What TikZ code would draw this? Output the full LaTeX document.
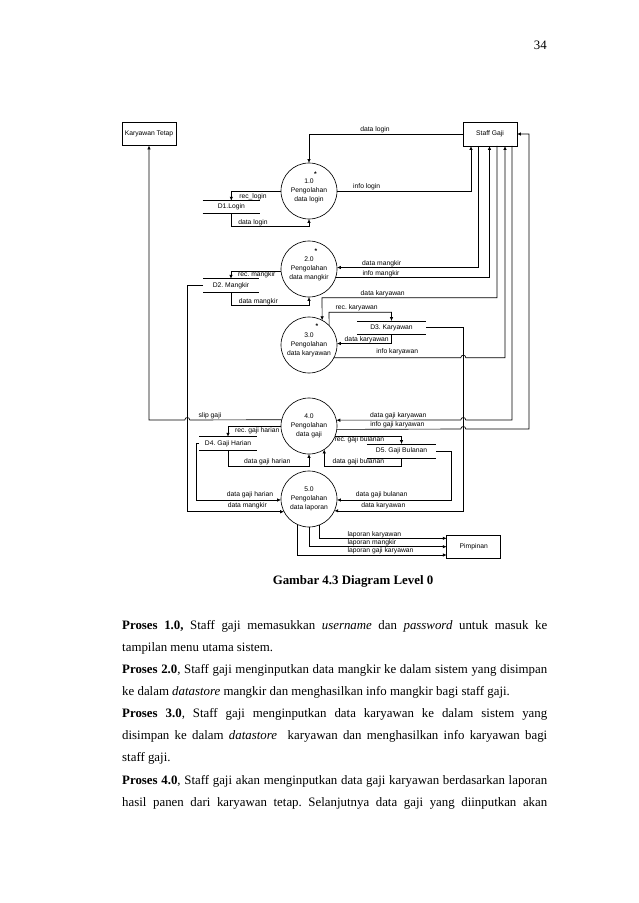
\documentclass[tikz,border=0pt]{standalone}
\usepackage{fontspec}
\setmainfont{Liberation Serif}
\newfontfamily\dsf{Liberation Sans}
\usetikzlibrary{arrows.meta,calc}
\frenchspacing
\def\U{0.9326pt}
\newcommand{\diafont}{\dsf\fontsize{6.3}{7.5}\selectfont}
\newcommand{\procfont}{\dsf\fontsize{6.3}{8.1}\selectfont}
\newcommand{\txtfont}{\fontsize{12}{14}\selectfont}
\tikzset{
  proc/.style={circle, draw, line width=0.6pt, minimum size=56*\U, inner sep=0pt, outer sep=0pt, font=\procfont, align=center},
  ent/.style={rectangle, draw, line width=0.6pt, minimum width=54*\U, inner sep=0pt, outer sep=0pt, font=\diafont},
  store/.style={rectangle, inner sep=0pt, outer sep=0pt, font=\diafont},
  lbl/.style={inner sep=0pt, font=\diafont},
  flow/.style={draw, line width=0.6pt, -{Latex[length=3.6pt,width=3.2pt]}},
  solidline/.style={draw, line width=0.6pt},
  astx/.style={inner sep=0pt, font=\diafont\bfseries},
  bodyline/.style={anchor=base west, inner sep=0pt, font=\txtfont},
}
\begin{document}
\begin{tikzpicture}[x=\U, y=-\U]
\useasboundingbox (0,0) rectangle (638,903);

% ---------- entities ----------
\node[ent, minimum height=23*\U] (kt) at (149,134) {Karyawan Tetap};
\node[ent, minimum height=24*\U] (sg) at (490,134) {Staff Gaji};
\node[ent, minimum height=23.3*\U] (pim) at (473.7,546.7) {Pimpinan};

% ---------- processes ----------
\node[proc] (p1) at (309,191) {1.0\\Pengolahan\\data login};
\node[proc] (p2) at (309,269) {2.0\\Pengolahan\\data mangkir};
\node[proc] (p3) at (309,345) {3.0\\Pengolahan\\data karyawan};
\node[proc] (p4) at (309,426) {4.0\\Pengolahan\\data gaji};
\node[proc] (p5) at (309,499) {5.0\\Pengolahan\\data laporan};
\node[astx] (s1) at (315.5,174) {*};
\node[astx] (s2) at (316,251) {*};
\node[astx] (s3) at (317,326) {*};

% ---------- data stores ----------
\node[store, minimum width=57.3*\U, minimum height=13*\U] (d1) at (231.3,207.2) {D1.Login};
\node[store, minimum width=56*\U, minimum height=13.6*\U] (d2) at (231,285.5) {D2. Mangkir};
\node[store, minimum width=69*\U, minimum height=13*\U] (d3) at (391.5,327.5) {D3. Karyawan};
\node[store, minimum width=57.6*\U, minimum height=13.3*\U] (d4) at (228,443.3) {D4. Gaji Harian};
\node[store, minimum width=69.4*\U, minimum height=14.3*\U] (d5) at (401.5,451.2) {D5. Gaji Bulanan};
\foreach \d in {d1,d2,d3,d4,d5}{
  \draw[solidline] (\d.north west) -- (\d.north east) (\d.south west) -- (\d.south east);
}

% ---------- process 1.0 ----------
\draw[flow] (sg.west) -| (p1.north);
\draw[flow] (p1.east) -| ($(sg.south west)+(8,0)$);
\draw[flow] (p1.west) -| (d1.north);
\draw[flow] (d1.south) -- ++(0,13) -| (p1.south);

% ---------- process 2.0 ----------
\draw[flow] ($(sg.south west)+(15.5,0)$) |- (p2.3.5);
\draw[flow] (p2.342.8) -| ($(sg.south west)+(26.5,0)$);
\draw[flow] (p2.184) -| (d2.north);
\draw[flow] (d2.south) -- ++(0,12.7) -| (p2.south);

% ---------- process 3.0 ----------
\draw[flow] ($(sg.south west)+(34,0)$) |- (322,297.7) -- (p3.62.3);
\draw[flow] (p3.44.4) -- (329,312.3) -| (d3.north);
\draw[flow] (d3.south) |- (p3.3.5);
\draw[flow] (p3.333) -- (460.8,357.7) .. controls (460.8,354.4) and (465.8,354.4) .. (465.8,357.7) -| ($(sg.south west)+(42,0)$);

% ---------- process 4.0 ----------
\draw[flow] (p4.167.6) -- (189.8,420) .. controls (189.8,416.7) and (184.8,416.7) .. (184.8,420) -| (kt.south);
\draw[flow] (p4.181.4) -| (d4.north);
\draw[flow] (d4.south) -- ++(0,16.7) -| (p4.south);
\draw[flow] ($(sg.south west)+(49,0)$) |- (465.8,420) .. controls (465.8,416.7) and (460.8,416.7) .. (460.8,420) -- (p4.12.4);
\draw[flow] (p4.353.8) -- (460.8,429) .. controls (460.8,425.7) and (465.8,425.7) .. (465.8,429) -- (529,429) |- (sg.east);
\draw[flow] (p4.339.1) -| (d5.north);
\draw[flow] (d5.south) -- ++(0,7.7) -| (p4.303.1);

% ---------- process 5.0 ----------
\draw[flow] (d4.west) -- (196.7,443.3) |- (p5.182);
\draw[flow] (d2.west) -- (187.3,285.5) |- (p5.207);
\draw[flow] (d5.east) -- (451.7,451.2) |- (p5.358);
\draw[flow] (d3.east) -- (463.3,327.5) |- (p5.335.3);
\draw[flow] (p5.291.6) |- ($(pim.west)+(0,-8.4)$);
\draw[flow] (p5.south) |- (pim.west);
\draw[flow] (p5.246.2) |- ($(pim.west)+(0,8.3)$);

% ---------- flow labels ----------
\node[lbl] (l1) at (375,129.5) {data login};
\node[lbl] (l2) at (366.7,187) {info login};
\node[lbl] (l3) at (253,196.5) {rec\_login};
\node[lbl] (l4) at (253,223) {data login};
\node[lbl] (l5) at (381.7,263.3) {data mangkir};
\node[lbl] (l6) at (381,273.3) {info mangkir};
\node[lbl] (l7) at (256.7,274.5) {rec. mangkir};
\node[lbl] (l8) at (258.3,301.7) {data mangkir};
\node[lbl] (l9) at (382.7,294) {data karyawan};
\node[lbl] (l10) at (356.7,307.5) {rec. karyawan};
\node[lbl] (l11) at (366.7,340) {data karyawan};
\node[lbl] (l12) at (397.3,352) {info karyawan};
\node[lbl] (l13) at (210,416) {slip gaji};
\node[lbl] (l14) at (398.3,415.7) {data gaji karyawan};
\node[lbl] (l15) at (397.3,425) {info gaji karyawan};
\node[lbl] (l16) at (257.3,430.5) {rec. gaji harian};
\node[lbl] (l17) at (267.3,461.7) {data gaji harian};
\node[lbl] (l18) at (359.3,439.3) {rec. gaji bulanan};
\node[lbl] (l19) at (358.3,461.7) {data gaji bulanan};
\node[lbl] (l20) at (250,495) {data gaji harian};
\node[lbl] (l21) at (247.3,505.5) {data mangkir};
\node[lbl] (l22) at (381.7,495) {data gaji bulanan};
\node[lbl] (l23) at (383.3,505.7) {data karyawan};
\node[lbl, anchor=west] (l24) at (347.5,534.3) {laporan karyawan};
\node[lbl, anchor=west] (l25) at (347.5,542.3) {laporan mangkir};
\node[lbl, anchor=west] (l26) at (347.5,550.7) {laporan gaji karyawan};

% ---------- page text ----------
\node[anchor=base east, inner sep=0pt, font=\txtfont] (pg) at (547,50) {34};
\node[anchor=base, inner sep=0pt, font=\txtfont\bfseries] (cap) at (353,584) {Gambar 4.3 Diagram Level 0};

\node[bodyline] (b1) at (122,629) {\makebox[396.4pt][s]{\textbf{Proses 1.0,} Staff gaji memasukkan \textit{username} dan \textit{password} untuk masuk ke}};
\node[bodyline] (b2) at (122,651.15) {tampilan menu utama sistem.};
\node[bodyline] (b3) at (122,673.3) {\makebox[396.4pt][s]{\textbf{Proses 2.0}, Staff gaji menginputkan data mangkir ke dalam sistem yang disimpan}};
\node[bodyline] (b4) at (122,695.45) {ke dalam \textit{datastore} mangkir dan menghasilkan info mangkir bagi staff gaji.};
\node[bodyline] (b5) at (122,717.6) {\makebox[396.4pt][s]{\textbf{Proses 3.0}, Staff gaji menginputkan data karyawan ke dalam sistem yang}};
\node[bodyline] (b6) at (122,739.75) {\makebox[396.4pt][s]{disimpan ke dalam \textit{datastore}\ \ karyawan dan menghasilkan info karyawan bagi}};
\node[bodyline] (b7) at (122,761.9) {staff gaji.};
\node[bodyline] (b8) at (122,784.05) {\makebox[396.4pt][s]{\textbf{Proses 4.0}, Staff gaji akan menginputkan data gaji karyawan berdasarkan laporan}};
\node[bodyline] (b9) at (122,806.2) {\makebox[396.4pt][s]{hasil panen dari karyawan tetap. Selanjutnya data gaji yang diinputkan akan}};
\end{tikzpicture}
\end{document}
